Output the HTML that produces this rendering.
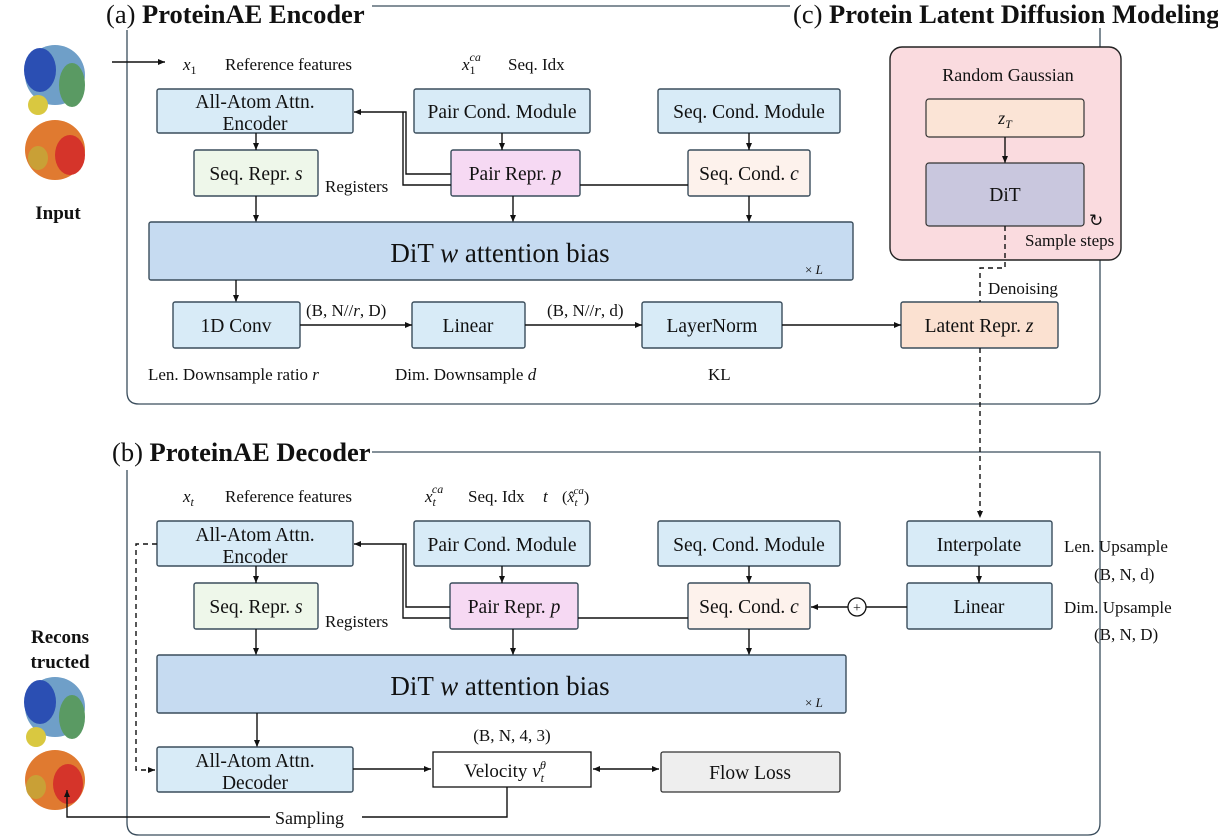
<!DOCTYPE html>
<html><head><meta charset="utf-8"><style>
body{margin:0;background:#fff}
svg{display:block}
text{font-family:"Liberation Serif",serif;fill:#111}
.b{fill:#d8ebf7;stroke:#3a4d5c;stroke-width:1.4}
.t{font-size:19.5px;text-anchor:middle}
.s{font-size:17px}
.l{stroke:#111;stroke-width:1.4;fill:none}
.d{stroke:#111;stroke-width:1.4;fill:none;stroke-dasharray:5,4}
.f{stroke:#3a4d5c;stroke-width:1.3;fill:none}
</style></head><body>
<svg width="1218" height="839" viewBox="0 0 1218 839">
<defs><marker id="a" markerWidth="8" markerHeight="8" refX="7" refY="4" orient="auto" markerUnits="userSpaceOnUse"><path d="M0,1 L7,4 L0,7z" fill="#111"/></marker></defs>

<path class="f" d="M372,6 H790 M1100,28 V392 Q1100,404 1088,404 H139 Q127,404 127,392 V30"/>
<path class="f" d="M372,452 H1100 V823 Q1100,835 1088,835 H139 Q127,835 127,823 V470"/>
<text x="106" y="23" font-size="26.5">(a) <tspan font-weight="bold">ProteinAE Encoder</tspan></text>
<text x="793" y="23" font-size="26.5">(c) <tspan font-weight="bold">Protein Latent Diffusion Modeling</tspan></text>
<text x="112" y="461" font-size="26.5">(b) <tspan font-weight="bold">ProteinAE Decoder</tspan></text>

<g>
<ellipse cx="55" cy="75" rx="30" ry="30" fill="#6f9fc8"/><ellipse cx="40" cy="70" rx="16" ry="22" fill="#2b4fb3"/><ellipse cx="72" cy="85" rx="13" ry="22" fill="#5a9a63"/>
<ellipse cx="38" cy="105" rx="10" ry="10" fill="#d9c840"/>
<ellipse cx="55" cy="150" rx="30" ry="30" fill="#e07a30"/><ellipse cx="70" cy="155" rx="15" ry="20" fill="#d5342a"/><ellipse cx="38" cy="158" rx="10" ry="12" fill="#c9a036"/>
</g>
<g transform="translate(0,12)">
<ellipse cx="55" cy="695" rx="30" ry="30" fill="#6f9fc8"/><ellipse cx="40" cy="690" rx="16" ry="22" fill="#2b4fb3"/><ellipse cx="72" cy="705" rx="13" ry="22" fill="#5a9a63"/>
<ellipse cx="36" cy="725" rx="10" ry="10" fill="#d9c840"/>
<ellipse cx="55" cy="768" rx="30" ry="30" fill="#e07a30"/><ellipse cx="68" cy="772" rx="15" ry="20" fill="#d5342a"/><ellipse cx="36" cy="775" rx="10" ry="12" fill="#c9a036"/>
</g>
<text x="58" y="219" font-size="19" font-weight="bold" text-anchor="middle">Input</text>
<text x="60" y="643" font-size="19" font-weight="bold" text-anchor="middle">Recons</text>
<text x="60" y="668" font-size="19" font-weight="bold" text-anchor="middle">tructed</text>

<line class="l" x1="112" y1="62" x2="165" y2="62" marker-end="url(#a)"/>
<text x="183" y="70" font-size="17" font-style="italic">x<tspan font-size="12" dy="4" font-style="normal">1</tspan></text>
<text x="225" y="70" class="s">Reference features</text>
<text x="462" y="70" font-size="17" font-style="italic">x<tspan font-size="12" dy="4" font-style="normal">1</tspan><tspan font-size="12" dx="-6" dy="-13">ca</tspan></text>
<text x="508" y="70" class="s">Seq. Idx</text>

<rect class="b" x="157" y="89" width="196" height="44" rx="2"/>
<text class="t" x="255" y="108">All-Atom Attn.</text><text class="t" x="255" y="130">Encoder</text>
<rect class="b" x="414" y="89" width="176" height="44" rx="2"/><text class="t" x="502" y="118">Pair Cond. Module</text>
<rect class="b" x="658" y="89" width="182" height="44" rx="2"/><text class="t" x="749" y="118">Seq. Cond. Module</text>

<rect class="b" x="194" y="150" width="124" height="46" rx="2" style="fill:#eef7ea"/><text class="t" x="256" y="180">Seq. Repr. <tspan font-style="italic">s</tspan></text>
<rect class="b" x="451" y="150" width="129" height="46" rx="2" style="fill:#f6d9f3"/><text class="t" x="515" y="180">Pair Repr. <tspan font-style="italic">p</tspan></text>
<rect class="b" x="688" y="150" width="122" height="46" rx="2" style="fill:#fdf2ec"/><text class="t" x="749" y="180">Seq. Cond. <tspan font-style="italic">c</tspan></text>
<text x="325" y="192" class="s">Registers</text>

<line class="l" x1="502" y1="133" x2="502" y2="150" marker-end="url(#a)"/>
<line class="l" x1="749" y1="133" x2="749" y2="150" marker-end="url(#a)"/>
<line class="l" x1="256" y1="133" x2="256" y2="150" marker-end="url(#a)"/>
<path class="l" d="M451,174 H406 V112 H354" marker-end="url(#a)"/>
<path class="l" d="M451,185 H403 V112"/>
<line class="l" x1="580" y1="185" x2="688" y2="185"/>
<line class="l" x1="256" y1="196" x2="256" y2="222" marker-end="url(#a)"/>
<line class="l" x1="513" y1="196" x2="513" y2="222" marker-end="url(#a)"/>
<line class="l" x1="749" y1="196" x2="749" y2="222" marker-end="url(#a)"/>

<rect class="b" x="149" y="222" width="704" height="58" rx="2" style="fill:#c6dbf1"/>
<text x="500" y="262" font-size="27" text-anchor="middle">DiT <tspan font-style="italic">w</tspan> attention bias</text>
<text x="805" y="274" font-size="13">× <tspan font-style="italic">L</tspan></text>

<line class="l" x1="236" y1="280" x2="236" y2="302" marker-end="url(#a)"/>
<rect class="b" x="173" y="302" width="127" height="46" rx="2"/><text class="t" x="236" y="332">1D Conv</text>
<rect class="b" x="412" y="302" width="113" height="46" rx="2"/><text class="t" x="468" y="332">Linear</text>
<rect class="b" x="642" y="302" width="140" height="46" rx="2"/><text class="t" x="712" y="332">LayerNorm</text>
<rect class="b" x="901" y="302" width="157" height="46" rx="2" style="fill:#fbe1d1"/><text class="t" x="979" y="332">Latent Repr. <tspan font-style="italic">z</tspan></text>
<line class="l" x1="300" y1="325" x2="412" y2="325" marker-end="url(#a)"/>
<line class="l" x1="525" y1="325" x2="642" y2="325" marker-end="url(#a)"/>
<line class="l" x1="782" y1="325" x2="901" y2="325" marker-end="url(#a)"/>
<text x="306" y="316" class="s">(B, N//<tspan font-style="italic">r</tspan>, D)</text>
<text x="547" y="316" class="s">(B, N//<tspan font-style="italic">r</tspan>, d)</text>
<text x="148" y="380" class="s">Len. Downsample ratio <tspan font-style="italic">r</tspan></text>
<text x="395" y="380" class="s">Dim. Downsample <tspan font-style="italic">d</tspan></text>
<text x="708" y="380" class="s">KL</text>

<rect x="890" y="47" width="231" height="213" rx="12" fill="#fadbdf" stroke="#222" stroke-width="1.4"/>
<text x="1008" y="81" font-size="18" text-anchor="middle">Random Gaussian</text>
<rect x="926" y="99" width="158" height="38" rx="3" fill="#fbe4d6" stroke="#333" stroke-width="1.2"/>
<text x="1005" y="124" font-size="18" font-style="italic" text-anchor="middle">z<tspan font-size="12" dy="4">T</tspan></text>
<line class="l" x1="1005" y1="137" x2="1005" y2="163" marker-end="url(#a)"/>
<rect x="926" y="163" width="158" height="63" rx="3" fill="#c9c7de" stroke="#333" stroke-width="1.2"/>
<text class="t" x="1005" y="201">DiT</text>
<text x="1089" y="226" font-size="17">↻</text>
<text x="1025" y="246" class="s">Sample steps</text>
<path class="d" d="M1005,226 V268 H980 V302"/>
<text x="988" y="294" class="s">Denoising</text>
<line class="d" x1="980" y1="348" x2="980" y2="518" marker-end="url(#a)"/>

<text x="183" y="502" font-size="17" font-style="italic">x<tspan font-size="12" dy="4">t</tspan></text>
<text x="225" y="502" class="s">Reference features</text>
<text x="425" y="502" font-size="17" font-style="italic">x<tspan font-size="12" dy="4">t</tspan><tspan font-size="12" dx="-4" dy="-13">ca</tspan></text>
<text x="468" y="502" class="s">Seq. Idx</text>
<text x="543" y="502" class="s" font-style="italic">t</text>
<text x="562" y="502" font-size="16">(<tspan font-style="italic">x̂</tspan><tspan font-size="11" dy="4" font-style="italic">t</tspan><tspan font-size="11" dx="-4" dy="-12" font-style="italic">ca</tspan><tspan dy="8">)</tspan></text>

<rect class="b" x="157" y="521" width="196" height="45" rx="2"/>
<text class="t" x="255" y="541">All-Atom Attn.</text><text class="t" x="255" y="563">Encoder</text>
<rect class="b" x="414" y="521" width="176" height="45" rx="2"/><text class="t" x="502" y="551">Pair Cond. Module</text>
<rect class="b" x="658" y="521" width="182" height="45" rx="2"/><text class="t" x="749" y="551">Seq. Cond. Module</text>
<rect class="b" x="907" y="521" width="145" height="45" rx="2"/><text class="t" x="979" y="551">Interpolate</text>

<rect class="b" x="194" y="583" width="124" height="46" rx="2" style="fill:#eef7ea"/><text class="t" x="256" y="613">Seq. Repr. <tspan font-style="italic">s</tspan></text>
<rect class="b" x="450" y="583" width="128" height="46" rx="2" style="fill:#f6d9f3"/><text class="t" x="514" y="613">Pair Repr. <tspan font-style="italic">p</tspan></text>
<rect class="b" x="688" y="583" width="122" height="46" rx="2" style="fill:#fdf2ec"/><text class="t" x="749" y="613">Seq. Cond. <tspan font-style="italic">c</tspan></text>
<rect class="b" x="907" y="583" width="145" height="46" rx="2"/><text class="t" x="979" y="613">Linear</text>
<text x="325" y="627" class="s">Registers</text>

<line class="l" x1="502" y1="566" x2="502" y2="583" marker-end="url(#a)"/>
<line class="l" x1="749" y1="566" x2="749" y2="583" marker-end="url(#a)"/>
<line class="l" x1="256" y1="566" x2="256" y2="583" marker-end="url(#a)"/>
<line class="l" x1="979" y1="566" x2="979" y2="583" marker-end="url(#a)"/>
<path class="l" d="M450,607 H406 V544 H354" marker-end="url(#a)"/>
<path class="l" d="M450,618 H403 V544"/>
<line class="l" x1="578" y1="618" x2="688" y2="618"/>
<line class="l" x1="907" y1="607" x2="866" y2="607"/>
<circle cx="857" cy="607" r="9" fill="#fff" stroke="#111" stroke-width="1.3"/>
<text x="857" y="612" font-size="14" text-anchor="middle">+</text>
<line class="l" x1="848" y1="607" x2="811" y2="607" marker-end="url(#a)"/>
<line class="l" x1="256" y1="629" x2="256" y2="655" marker-end="url(#a)"/>
<line class="l" x1="513" y1="629" x2="513" y2="655" marker-end="url(#a)"/>
<line class="l" x1="749" y1="629" x2="749" y2="655" marker-end="url(#a)"/>

<text x="1064" y="552" class="s">Len. Upsample</text>
<text x="1094" y="580" class="s">(B, N, d)</text>
<text x="1064" y="613" class="s">Dim. Upsample</text>
<text x="1094" y="640" class="s">(B, N, D)</text>

<rect class="b" x="157" y="655" width="689" height="58" rx="2" style="fill:#c6dbf1"/>
<text x="500" y="695" font-size="27" text-anchor="middle">DiT <tspan font-style="italic">w</tspan> attention bias</text>
<text x="805" y="707" font-size="13">× <tspan font-style="italic">L</tspan></text>

<line class="l" x1="257" y1="713" x2="257" y2="747" marker-end="url(#a)"/>
<rect class="b" x="157" y="747" width="196" height="45" rx="2"/>
<text class="t" x="255" y="767">All-Atom Attn.</text><text class="t" x="255" y="789">Decoder</text>
<path class="d" d="M157,544 H136 V770 H155" marker-end="url(#a)"/>
<text x="512" y="741" class="s" text-anchor="middle">(B, N, 4, 3)</text>
<rect x="433" y="752" width="158" height="35" fill="#fff" stroke="#111" stroke-width="1.3"/>
<text x="505" y="777" font-size="19" text-anchor="middle">Velocity <tspan font-style="italic">v</tspan><tspan font-size="12" dy="5" font-style="italic">t</tspan><tspan font-size="12" dx="-4" dy="-13" font-style="italic">θ</tspan></text>
<rect x="661" y="752" width="179" height="40" rx="2" fill="#eeeeee" stroke="#333" stroke-width="1.3"/>
<text class="t" x="750" y="779">Flow Loss</text>
<line class="l" x1="353" y1="769" x2="431" y2="769" marker-end="url(#a)"/>
<line class="l" x1="620" y1="769" x2="659" y2="769" marker-end="url(#a)"/>
<line class="l" x1="620" y1="769" x2="593" y2="769" marker-end="url(#a)"/>
<path class="l" d="M507,787 V817 H362"/>
<text x="275" y="824" font-size="18">Sampling</text>
<path class="l" d="M270,817 H67 V790" marker-end="url(#a)"/>
</svg>
</body></html>
